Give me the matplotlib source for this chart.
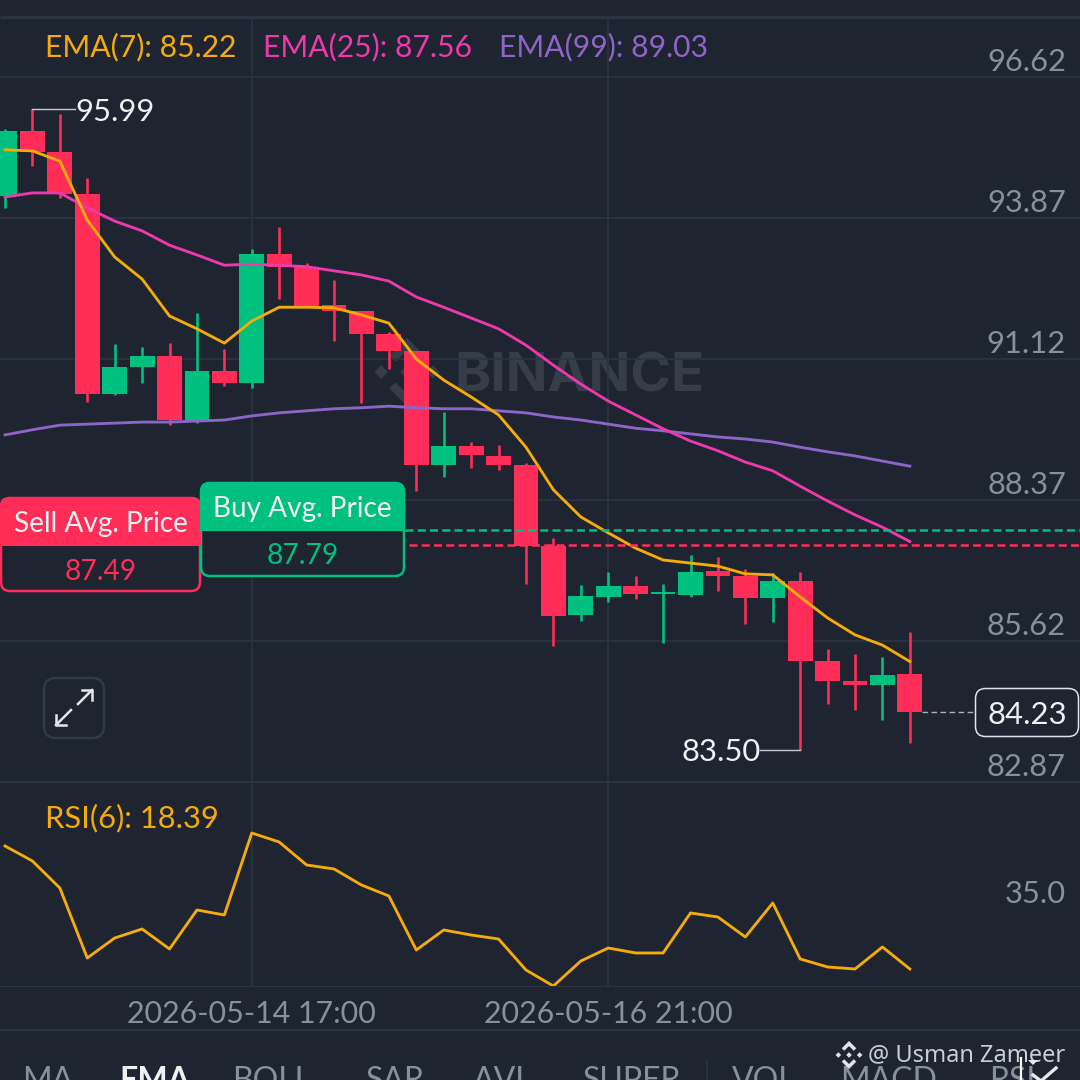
import matplotlib
matplotlib.use("Agg")
import matplotlib.pyplot as plt
from matplotlib.patches import FancyBboxPatch, Rectangle, Polygon

plt.rcParams['font.family'] = ['Lato', 'DejaVu Sans']

# ---- data ----
opens = [94.30,95.57,95.16,94.34,90.44,90.96,91.18,89.93,90.89,90.65,93.17,92.92,92.17,92.06,91.61,
         91.28,89.05,89.42,89.23,89.05,87.47,86.13,86.48,86.69,86.54,86.52,86.99,86.89,86.46,86.79,
         85.23,84.84,84.76,84.98]
closes = [95.57,95.16,94.34,90.44,90.96,91.18,89.93,90.89,90.65,93.17,92.92,92.15,92.06,91.61,91.28,
          89.05,89.42,89.25,89.05,87.47,86.11,86.50,86.69,86.54,86.58,86.97,86.89,86.46,86.79,85.23,
          84.84,84.76,84.96,84.23]
highs = [95.61,95.99,95.90,94.65,91.41,91.35,91.43,92.02,91.32,93.27,93.70,92.99,92.66,92.06,91.65,
         91.28,90.09,89.50,89.44,89.09,87.63,86.71,86.97,86.89,86.73,87.30,87.26,87.03,86.95,86.97,
         85.46,85.37,85.31,85.80]
lows = [94.07,94.89,94.26,90.28,90.42,90.65,89.83,89.87,90.59,90.55,92.29,92.15,91.47,90.26,90.93,
        88.55,88.82,89.00,88.96,86.73,85.52,86.01,86.38,86.44,85.58,86.48,86.60,85.95,85.99,83.50,
        84.39,84.27,84.08,83.63]
ema7 = [95.20,95.18,94.98,93.83,93.11,92.68,91.96,91.71,91.43,91.86,92.13,92.13,92.12,91.98,91.82,
        91.12,90.71,90.38,90.03,89.40,88.57,88.04,87.73,87.43,87.20,87.14,87.08,86.93,86.91,86.48,
        86.07,85.74,85.54,85.22]
ema25 = [94.28,94.36,94.36,94.07,93.81,93.62,93.34,93.15,92.95,92.97,92.95,92.92,92.84,92.76,92.64,
         92.33,92.13,91.92,91.71,91.39,91.00,90.63,90.30,90.03,89.76,89.52,89.33,89.11,88.94,88.64,
         88.35,88.08,87.84,87.56]
ema99 = [89.64,89.74,89.83,89.85,89.87,89.89,89.89,89.91,89.93,90.01,90.07,90.11,90.15,90.17,90.20,
         90.17,90.15,90.15,90.11,90.07,89.99,89.93,89.85,89.77,89.72,89.66,89.60,89.56,89.50,89.40,
         89.31,89.23,89.13,89.03]
rsi6 = [52.44,48.28,40.81,21.43,26.97,29.46,23.93,34.72,33.34,56.03,53.54,47.18,46.07,41.64,38.60,
        23.65,29.19,27.80,26.69,18.11,13.68,20.60,24.20,22.82,22.82,33.89,32.78,27.25,36.66,21.16,
        18.94,18.39,24.48,18.39]
price_ticks = [96.62,93.87,91.12,88.37,85.62,82.87]
date_idx = [9, 22]
date_labels = ['2026-05-14 17:00', '2026-05-16 21:00']
tabs = ['MA','EMA','BOLL','SAR','AVL','SUPER','VOL','MACD','RSI']
tab_x = [48,155,272,395,503,632,764,889,1012]
high_mark, low_mark, last_price = 95.99, 83.50, 84.23
buy_avg, sell_avg = 87.79, 87.49

BG='#1e2531'; GRID='#2c3441'; RED='#ff2d58'; GREEN='#00c07f'
ORANGE='#f5ab0a'; PINK='#ee39ad'; PURPLE='#8f64c8'; GREY='#87919c'; WHITE='#eef0f2'
W=H=1080
fig=plt.figure(figsize=(10.8,10.8),dpi=100,facecolor=BG)

def axpx(top,bottom,z):
    a=fig.add_axes([0,1-bottom/H,1,(bottom-top)/H],zorder=z)
    a.patch.set_alpha(0)
    for s in a.spines.values(): s.set_visible(False)
    return a

def logo(a,cx,cy,R,col,z=1):
    def P(pts):
        a.add_patch(Polygon([(cx+R*u,cy+R*v) for u,v in pts],fc=col,ec='none',zorder=z))
    for u,v in [(0,0),(-.76,0),(.76,0)]:
        r=.2
        P([(u-r,v),(u,v-r),(u+r,v),(u,v+r)])
    for s in (1,-1):
        P([(0,-1*s),(.52,-.48*s),(.34,-.3*s),(0,-.64*s),(-.34,-.3*s),(-.52,-.48*s)])

# background chrome
bg=axpx(0,1080,0); bg.set_xlim(0,W); bg.set_ylim(H,0); bg.axis('off')
bg.hlines(17,0,W,color=GRID,lw=2.4)
bg.hlines(1030,0,W,color=GRID,lw=1.4)
bg.vlines(707,1060,1080,color=GRID,lw=1.2)
bg.text(579,372,'BINANCE',color='#363d49',fontsize=39.5,fontweight='bold',ha='center',va='center_baseline',family=['Inter','DejaVu Sans'])
logo(bg,407,372,34,'#363d49')

# price panel
xl=(-5/27.42,(W-5)/27.42)
ax=axpx(17,782,2)
pu=1/51.27
ax.set_xlim(*xl); ax.set_ylim(82.87,82.87+765*pu)
ax.set_yticks(price_ticks); ax.set_xticks(date_idx)
ax.grid(True,color=GRID,lw=1.2); ax.set_axisbelow(True)
ax.tick_params(length=0,labelleft=False,labelbottom=False)
x=list(range(len(opens)))
cols=[GREEN if c>=o else RED for o,c in zip(opens,closes)]
ax.vlines(x,lows,highs,color=cols,lw=1.9,zorder=2)
ax.bar(x,[max(abs(c-o),0.03) for o,c in zip(opens,closes)],bottom=[min(o,c) for o,c in zip(opens,closes)],
       width=0.905,color=cols,zorder=3)
for s,c in ((ema99,PURPLE),(ema25,PINK),(ema7,ORANGE)):
    ax.plot(x,s,color=c,lw=2.05,zorder=4,solid_joinstyle='round')
ax.axhline(buy_avg,xmin=405/W,xmax=1,color=GREEN,lw=1.8,ls=(0,(3.2,1.7)),zorder=5)
ax.axhline(sell_avg,xmin=409/W,xmax=1,color=RED,lw=1.8,ls=(0,(3.2,1.7)),zorder=5)
ytr=ax.get_yaxis_transform()
for t in price_ticks:
    ax.annotate(f'{t:.2f}',(1066/W,t),xycoords=ytr,xytext=(0,0.5),textcoords='offset points',
                ha='right',va='bottom',color=GREY,fontsize=22.2)
ax.plot([1,1,2.55],[highs[1],high_mark,high_mark],color='#c9ccd1',lw=1,zorder=5)
ax.plot([27.55,29],[low_mark,low_mark],color='#c9ccd1',lw=1,zorder=5)
ax.annotate(f'{high_mark:.2f}',(2.55,high_mark),color=WHITE,fontsize=22.3,va='center_baseline',ha='left',zorder=6)
ax.annotate(f'{low_mark:.2f}',(27.55,low_mark),color=WHITE,fontsize=22.3,va='center_baseline',ha='right',zorder=6)
ax.axhline(last_price,xmin=922/W,xmax=973/W,color='#aab0b8',lw=1,ls=(0,(4,2.5)),zorder=5)

# RSI panel
rx=axpx(782,986,2)
rx.set_xlim(*xl); rx.set_ylim(13.68,13.68+204*0.2768)
rx.set_xticks(date_idx); rx.set_xticklabels(date_labels,color=GREY,fontsize=21.9)
rx.set_yticks([]); rx.tick_params(axis='x',length=0,pad=10)
rx.grid(True,axis='x',color=GRID,lw=1.2); rx.set_axisbelow(True)
rx.spines['top'].set_visible(True); rx.spines['bottom'].set_visible(True)
rx.spines['top'].set_color(GRID); rx.spines['bottom'].set_color(GRID)
rx.plot(x,rsi6,color=ORANGE,lw=2.05)
rx.annotate('35.0',(1066/W,35.0),xycoords=rx.get_yaxis_transform(),xytext=(0,0.5),textcoords='offset points',
            ha='right',va='bottom',color=GREY,fontsize=22.2)

# overlay
ov=axpx(0,1080,5); ov.set_xlim(0,W); ov.set_ylim(H,0); ov.axis('off')
for t,px,c in [(f'EMA(7): {ema7[-1]:.2f}',45,ORANGE),(f'EMA(25): {ema25[-1]:.2f}',263,PINK),(f'EMA(99): {ema99[-1]:.2f}',499,PURPLE)]:
    ov.text(px,45,t,color=c,fontsize=21.7,va='center_baseline',ha='left')
ov.text(45,816,f'RSI(6): {rsi6[-1]:.2f}',color=ORANGE,fontsize=22.2,va='center_baseline')

def ticket(x0,x1,y0,ym,y1,col,title,val):
    ov.add_patch(FancyBboxPatch((x0+1,y0+1),x1-x0-2,y1-y0-2,boxstyle='round,pad=0,rounding_size=9',fc=BG,ec=col,lw=1.8,zorder=2))
    ov.add_patch(FancyBboxPatch((x0,y0),x1-x0,ym-y0-1,boxstyle='round,pad=0,rounding_size=9',fc=col,ec='none',zorder=3))
    ov.add_patch(Rectangle((x0,ym-14),x1-x0,14,fc=col,ec='none',zorder=3))
    cx=(x0+x1)/2
    ov.text(cx,(y0+ym)/2,title,color=WHITE,fontsize=20.2,ha='center',va='center_baseline',zorder=4)
    ov.text(cx,(ym+y1)/2,f'{val:.2f}',color=col,fontsize=20.3,ha='center',va='center_baseline',zorder=4)
ticket(0,201,497,546,592,RED,'Sell Avg. Price',sell_avg)
ticket(200,405,482,531,577,GREEN,'Buy Avg. Price',buy_avg)

# last price box
ov.add_patch(FancyBboxPatch((975.5,688.5),103,48,boxstyle='round,pad=0,rounding_size=10',fc=BG,ec='#dfe2e6',lw=1.1))
ov.text(1027,713,f'{last_price:.2f}',color=WHITE,fontsize=22.3,ha='center',va='center_baseline')

# expand button
ov.add_patch(FancyBboxPatch((44,678),60,60,boxstyle='round,pad=0,rounding_size=12',fc='none',ec='#343b48',lw=1.8))
ov.plot([78,92,92],[704,690,690],color='#e4e6e9',lw=1.8)
ov.plot([82,92,92],[690,690,700],color='#e4e6e9',lw=1.8)
ov.plot([71,56],[710,725],color='#e4e6e9',lw=1.8)
ov.plot([56,56,66],[715,725,725],color='#e4e6e9',lw=1.8)

# bottom tabs (clipped by the image edge, as in the screenshot)
for t,px in zip(tabs,tab_x):
    sel=t=='EMA'
    txt=ov.text(px,1066,t,color=WHITE if sel else GREY,fontsize=23,fontweight='bold' if sel else 'normal',ha='center',va='top')
    if t=='RSI':
        txt.set_clip_path(Rectangle((0,0),1020,1080,transform=ov.transData))
# attribution
ov.text(868,1055,'@ Usman Zameer',color='#c9ced4',fontsize=17,va='center',ha='left',family=['Noto Sans','DejaVu Sans'],zorder=6)
logo(ov,849,1055,14,'#dfe2e6',z=6)
ov.plot([1021,1021],[1058,1080],color='#ffffff',lw=1.6,zorder=6)
ov.add_patch(Polygon([(1028,1060),(1038,1060),(1033,1065)],fc='#e8eaed',ec='none',zorder=6))
ov.plot([1033,1041,1056],[1075,1081,1068],color='#e8eaed',lw=2.4,zorder=6)

fig.savefig('out.png',dpi=100,facecolor=BG)
